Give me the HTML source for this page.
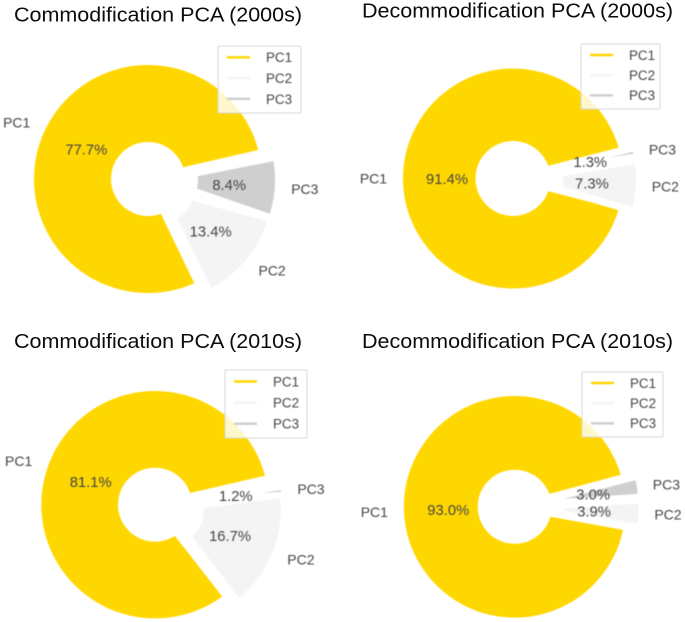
<!DOCTYPE html>
<html lang="en">
<head>
<meta charset="utf-8">
<title>PCA donut charts</title>
<style>
html,body{margin:0;padding:0;background:#fff;width:685px;height:622px;overflow:hidden}
svg{display:block}
.title{font-family:"Liberation Sans",sans-serif;font-size:20px;fill:#0c0c0c}
.lab{font-family:"Liberation Sans",sans-serif;fill:#444}
#marks{filter:blur(.45px)}
</style>
</head>
<body>
<svg id="chart" xmlns="http://www.w3.org/2000/svg" width="685" height="622" viewBox="0 0 685 622">
<g id="marks"></g>
<text class="title" x="14" y="21.5" textLength="288" lengthAdjust="spacingAndGlyphs">Commodification PCA (2000s)</text>
<text class="title" x="362" y="17.5" textLength="311" lengthAdjust="spacingAndGlyphs">Decommodification PCA (2000s)</text>
<text class="title" x="14" y="348" textLength="288" lengthAdjust="spacingAndGlyphs">Commodification PCA (2010s)</text>
<text class="title" x="362" y="348" textLength="311" lengthAdjust="spacingAndGlyphs">Decommodification PCA (2010s)</text>
</svg>
<script>
const categories = ['PC1', 'PC2', 'PC3'];
const commodification2000s = [77.7, 13.4, 8.4];
const decommodification2000s = [91.4, 7.3, 1.3];
const commodification2010s = [81.1, 16.7, 1.2];
const decommodification2010s = [93.0, 3.9, 3.0];

const colors = ['#FFD700', '#F4F4F4', '#CFCFCF'];
const NS = 'http://www.w3.org/2000/svg';
const root = document.getElementById('marks');
const SHIFT = 13, STROKE = 7;

const panels = [
  {key:'commodification-2000s', values:commodification2000s, start:13, trim:[[0,3],[3.5,3.5],[0,0]], cx:148, cy:179, R:114, r:37, lx:218, ly:46, lw:83, lh:67},
  {key:'decommodification-2000s', values:decommodification2000s, start:14.5, trim:[[0,2],[0,0],[0,0]], cx:513, cy:178.5, R:110, r:37.5, lx:581, ly:44, lw:79, lh:65},
  {key:'commodification-2010s', values:commodification2010s, start:13, trim:[[0,3],[2.5,2.5],[-1,-1]], cx:155, cy:504.7, R:113.7, r:37, lx:225, ly:370, lw:82, lh:68},
  {key:'decommodification-2010s', values:decommodification2010s, start:15, trim:[[0,0],[0,0],[0,0]], cx:514.7, cy:506.8, R:110.8, r:37, lx:582, ly:372, lw:81, lh:65}
];

function polar(cx, cy, rad, deg) {
  const a = deg * Math.PI / 180;
  return [cx + rad * Math.cos(a), cy - rad * Math.sin(a)];
}
function annulus(cx, cy, Ro, Ri, a0, a1) {
  const large = (a1 - a0) > 180 ? 1 : 0;
  const p0 = polar(cx, cy, Ro, a0), p1 = polar(cx, cy, Ro, a1);
  const p2 = polar(cx, cy, Ri, a1), p3 = polar(cx, cy, Ri, a0);
  return 'M' + p0[0] + ' ' + p0[1] + 'A' + Ro + ' ' + Ro + ' 0 ' + large + ' 0 ' + p1[0] + ' ' + p1[1] +
         'L' + p2[0] + ' ' + p2[1] + 'A' + Ri + ' ' + Ri + ' 0 ' + large + ' 1 ' + p3[0] + ' ' + p3[1] + 'Z';
}
function addText(parent, str, x, y, size, anchor) {
  const t = document.createElementNS(NS, 'text');
  t.setAttribute('class', 'lab');
  t.setAttribute('x', x);
  t.setAttribute('y', y + size * 0.36);
  t.setAttribute('font-size', size);
  t.setAttribute('text-anchor', anchor);
  t.textContent = str;
  parent.appendChild(t);
  return t;
}

panels.forEach(function (p) {
  const g = document.createElementNS(NS, 'g');
  
  
  root.appendChild(g);

  let angle = p.start;
  const texts = [];
  p.values.forEach(function (v, i) {
    const sweep = v / 100 * 360;
    const a0 = angle + p.trim[i][0];
    const a1 = angle + sweep + p.trim[i][1];
    const mid = (a0 + a1) / 2;
    const shift = i === 0 ? 0 : SHIFT;
    const c = polar(p.cx, p.cy, shift, mid);
    const wedge = document.createElementNS(NS, 'path');
    
    
    wedge.setAttribute('d', annulus(c[0], c[1], p.R + STROKE / 2, p.r - STROKE / 2, a0, a1));
    wedge.setAttribute('fill', colors[i]);
    wedge.setAttribute('stroke', '#fff');
    wedge.setAttribute('stroke-width', STROKE);
    g.appendChild(wedge);
    texts.push({i: i, v: v, mid: mid, c: c});
    angle += sweep;
  });

  texts.forEach(function (o) {
    const lp = polar(o.c[0], o.c[1], p.R * 1.145, o.mid);
    const anchor = lp[0] < p.cx ? 'end' : 'start';
    const lab = addText(g, categories[o.i], lp[0], lp[1], 14, anchor);
    
    
    const vp = polar(o.c[0], o.c[1], p.R * 0.6, o.mid);
    const pct = addText(g, o.v.toFixed(1) + '%', vp[0], vp[1], 14.8, 'middle');
    
    
  });

  const legend = document.createElementNS(NS, 'g');
  
  
  g.appendChild(legend);
  const box = document.createElementNS(NS, 'rect');
  
  
  box.setAttribute('x', p.lx);
  box.setAttribute('y', p.ly);
  box.setAttribute('width', p.lw);
  box.setAttribute('height', p.lh);
  box.setAttribute('rx', 1.5);
  box.setAttribute('fill', 'rgba(255,255,255,0.8)');
  box.setAttribute('stroke', '#d8d8d8');
  legend.appendChild(box);
  categories.forEach(function (name, i) {
    const y = p.ly + p.lh * (0.17 + 0.31 * i);
    const line = document.createElementNS(NS, 'line');
    
    
    line.setAttribute('x1', p.lx + 9);
    line.setAttribute('x2', p.lx + 32);
    line.setAttribute('y1', y);
    line.setAttribute('y2', y);
    line.setAttribute('stroke', colors[i]);
    line.setAttribute('stroke-width', 2.5);
    legend.appendChild(line);
    const txt = addText(legend, name, p.lx + 48, y, 13.4, 'start');
    
    
  });
});
</script>
</body>
</html>
